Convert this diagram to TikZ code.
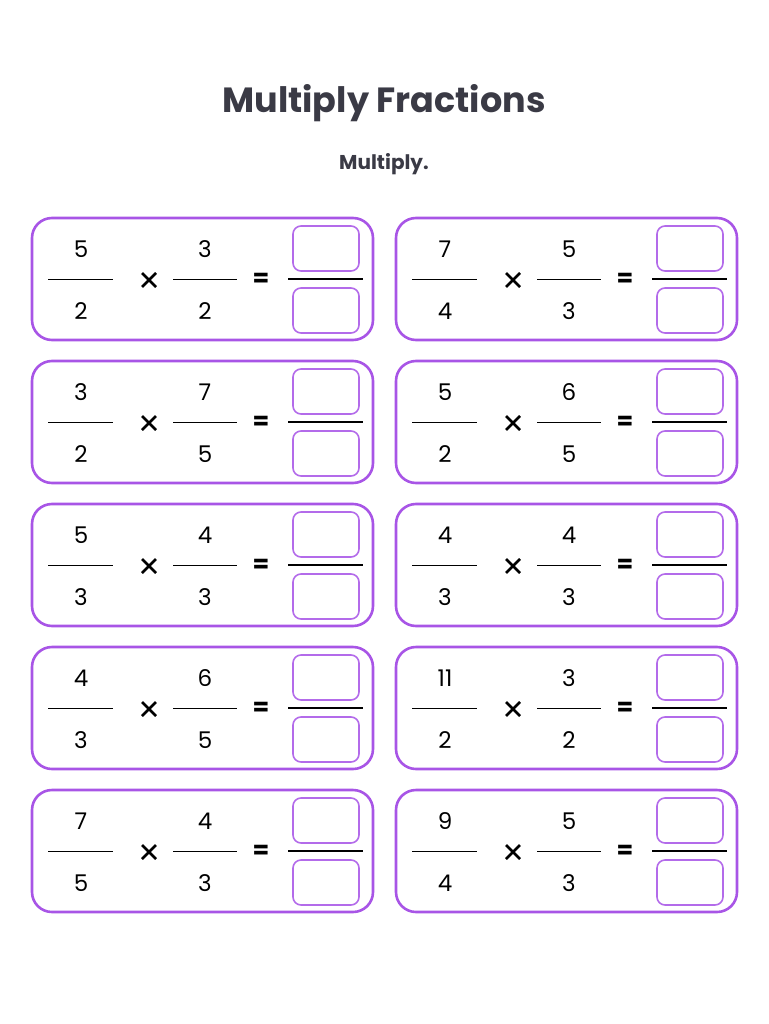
\documentclass[tikz,border=0pt]{standalone}
\usepackage{fontspec}
\setmainfont{Poppins}
\definecolor{cardc}{HTML}{A855E6}
\definecolor{boxc}{HTML}{B36BEA}
\definecolor{titlec}{HTML}{3A3A45}
\begin{document}
\begin{tikzpicture}[x=1pt,y=-1pt,
  card/.style={draw=cardc,line width=2.6pt,rounded corners=20pt},
  ansbox/.style={draw=boxc,line width=1.6pt,rounded corners=8pt},
  num/.style={font=\fontsize{23}{23}\selectfont,text=black},
  op/.style={font=\bfseries\fontsize{24}{24}\selectfont,text=black},
  crossline/.style={line width=2.6pt,black},
  bar/.style={line width=1pt,black}]
\useasboundingbox (0,0) rectangle (768,1024);
\node[font=\bfseries\fontsize{35}{35}\selectfont,text=titlec] (title) at (384,103) {Multiply Fractions};
\node[font=\bfseries\fontsize{20}{20}\selectfont,text=titlec] (sub) at (384,164) {Multiply.};
\foreach \a/\b/\c/\d [count=\i from 0] in {5/2/3/2,7/4/5/3,3/2/7/5,5/2/6/5,5/3/4/3,4/3/4/3,4/3/6/5,11/2/3/2,7/5/4/3,9/4/5/3}{
  \pgfmathtruncatemacro\col{mod(\i,2)}
  \pgfmathtruncatemacro\row{div(\i,2)}
  \begin{scope}[shift={(32+364*\col,218+143*\row)}]
    \draw[card] (0,0) rectangle (341,122);
    \node[num] (n1-\i) at (49,31) {\a};
    \draw[bar] (16,61) -- (81,61);
    \node[num] (d1-\i) at (49,93) {\b};
    \coordinate (x-\i) at (117,62);
    \draw[crossline] ([shift={(-7,-7)}]x-\i) -- ([shift={(7,7)}]x-\i);
    \draw[crossline] ([shift={(-7,7)}]x-\i) -- ([shift={(7,-7)}]x-\i);
    \node[num] (n2-\i) at (173,31) {\c};
    \draw[bar] (141,61) -- (205,61);
    \node[num] (d2-\i) at (173,93) {\d};
    \node[op] (eq-\i) at (229,62) {=};
    \draw[ansbox] (261,8) rectangle (327,53);
    \draw[ansbox] (261,70) rectangle (327,115);
    \draw[line width=1.3pt] (256,61) -- (331,61);
  \end{scope}
}
\end{tikzpicture}
\end{document}
